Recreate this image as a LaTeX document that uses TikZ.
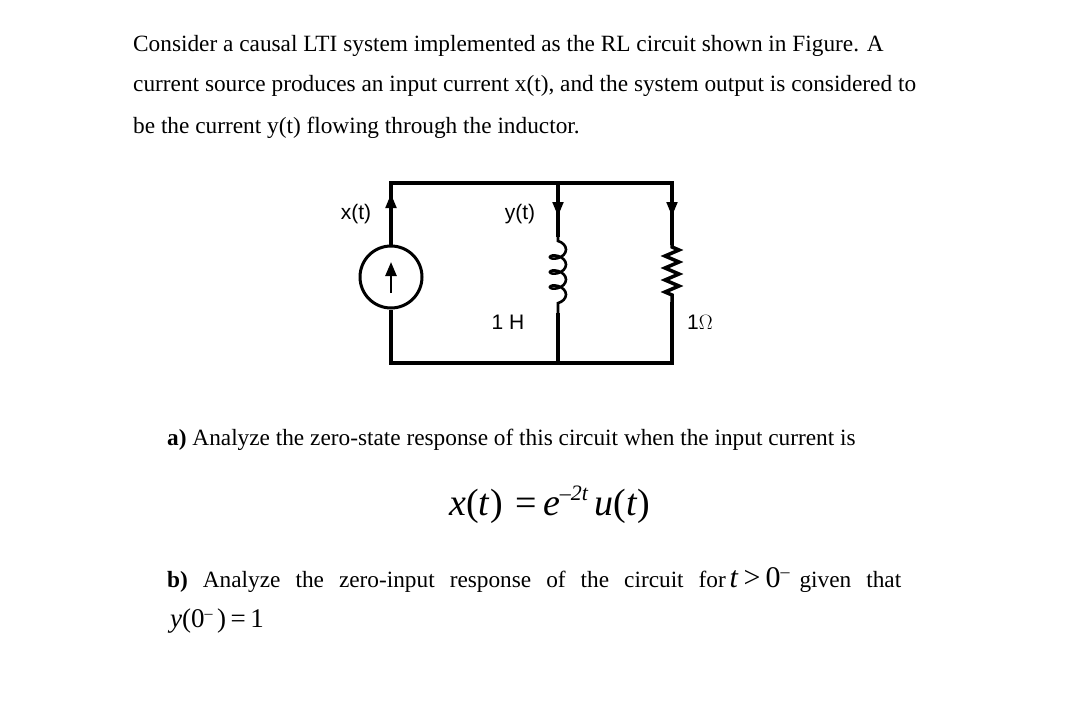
\documentclass[tikz,border=0pt]{standalone}
\usepackage{fontspec}
\setmainfont{Liberation Serif}
\newfontfamily\lsans{Liberation Sans}
\usetikzlibrary{decorations.pathmorphing,arrows.meta}
\newcommand{\gp}{\hspace{15pt}}
\begin{document}
\begin{tikzpicture}[x=1pt,y=-1pt,
  txt/.style={anchor=base west,inner sep=0,font=\fontsize{23.3}{26}\selectfont},
  lab/.style={inner sep=0,font=\lsans\fontsize{21}{22}\selectfont},
  wire/.style={line width=3.5pt},
  flow/.style={-{Triangle[length=14pt,width=11pt]}}]
\useasboundingbox (0,0) rectangle (1080,717);
\node[txt] (l1) at (133,52) {Consider a causal LTI system implemented as the RL circuit shown in Figure. A};
\node[txt] (l2) at (133,92) {current source produces an input current x(t), and the system output is considered to};
\node[txt] (l3) at (133,133) {be the current y(t) flowing through the inductor.};
% circuit
\coordinate (tl) at (391,183); \coordinate (tm) at (558,183); \coordinate (tr) at (672,183);
\coordinate (bl) at (391,363); \coordinate (bm) at (558,363); \coordinate (br) at (672,363);
\node[circle,draw,line width=3pt,minimum size=62pt,inner sep=0] (src) at (391,277) {};
\draw[wire] (src.north) -- (tl) -- (tr) -- (672,245);
\draw[wire] (src.south) -- (bl) -- (br) -- (672,302);
\draw[wire] (tm) -- (558,237); \draw[wire] (558,313) -- (bm);
\draw[line width=2.6pt,decorate,decoration={coil,aspect=0.6,segment length=15pt,amplitude=8pt,pre length=4pt,post length=4pt}] (558,237) -- (558,313);
\draw[wire,decorate,decoration={zigzag,segment length=12pt,amplitude=7pt,pre length=2pt,post length=2pt}] (672,245) -- (672,302);
\draw[line width=2.5pt,flow] (391,293) -- (391,262);
\draw[line width=2pt,flow] (391,218) -- (391,194);
\draw[line width=2pt,flow] (558,192) -- (558,216);
\draw[line width=2pt,flow] (672,192) -- (672,216);
\node[lab] (xt) at (356,214) {x(t)};
\node[lab] (yt) at (520,214) {y(t)};
\node[lab] (lh) at (508,322) {1 H};
\node[lab] (rr) at (700,322) {1$\Omega$};
\node[txt] (pa) at (167,445) {\textbf{a)} Analyze the zero-state response of this circuit when the input current is};
\node[anchor=base west,inner sep=0,font=\fontsize{38}{40}\selectfont] (eq) at (449,515) {\textit{x}(\textit{t})\,\,=\,\textit{e}\raisebox{15pt}{\fontsize{22}{22}\selectfont\textit{–2t}}\,\textit{u}(\textit{t})};
\node[txt] (pb) at (167,587) {\textbf{b)}\gp Analyze\gp the\gp zero-input\gp response\gp of\gp the\gp circuit\gp for\,{\fontsize{30}{30}\selectfont\textit{t}\,>\,0\raisebox{10pt}{\fontsize{18}{18}\selectfont–}}\hspace{10pt}given\gp that};
\node[anchor=base west,inner sep=0,font=\fontsize{27}{28}\selectfont] (pc) at (170,627) {\textit{y}(0\raisebox{9pt}{\fontsize{16}{16}\selectfont–}\,)\,=\,1};
\end{tikzpicture}
\end{document}
